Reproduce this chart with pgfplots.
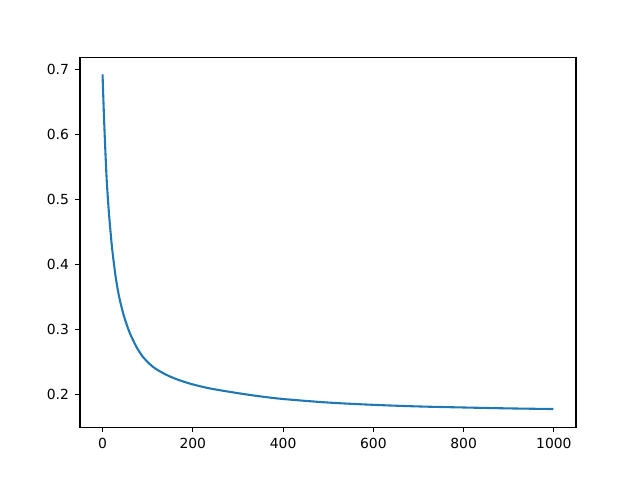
\documentclass[border=0pt]{standalone}
\usepackage{pgfplots}
\pgfplotsset{compat=1.18}
\usepackage{fontspec}
\setmainfont{DejaVu Sans}
\definecolor{mplblue}{HTML}{1F77B4}
\begin{document}
\begin{tikzpicture}
	\begin{axis}[
	scale only axis,
	width=357.12pt, height=266.11pt,
	xmin=-49.95, xmax=1048.95,
	ymin=0.149, ymax=0.719,
	xtick={0,200,400,600,800,1000},
	ytick={0.2,0.3,0.4,0.5,0.6,0.7},
	yticklabel style={/pgf/number format/fixed, /pgf/number format/precision=1, /pgf/number format/fixed zerofill},
	xticklabel style={/pgf/number format/fixed, /pgf/number format/1000 sep={}},
	/pgf/number format/assume math mode=true,
	tick align=outside,
	xtick pos=left, ytick pos=left,
	major tick length=3.5pt,
	every tick/.style={black, line width=0.8pt},
	axis line style={line width=0.8pt},
	tick label style={font=\fontsize{10}{12}\selectfont},
	xticklabel shift=1pt, yticklabel shift=1pt,
	scaled y ticks=false,
	]
	\addplot[mplblue, line width=1.5pt, smooth, tension=0.5] coordinates {
		(0, 0.693)
		(2, 0.651)
		(4, 0.613)
		(6, 0.579)
		(9, 0.533)
		(12, 0.500)
		(15, 0.472)
		(20, 0.433)
		(24, 0.408)
		(29, 0.381)
		(34, 0.360)
		(39, 0.343)
		(48, 0.319)
		(60, 0.295)
		(75, 0.273)
		(90, 0.257)
		(110, 0.243)
		(130, 0.234)
		(150, 0.227)
		(170, 0.2215)
		(200, 0.2150)
		(240, 0.2085)
		(300, 0.2015)
		(350, 0.1965)
		(400, 0.1925)
		(500, 0.1870)
		(600, 0.1835)
		(700, 0.1810)
		(800, 0.1794)
		(900, 0.1780)
		(999, 0.1770)
	};
	\end{axis}
	\path[use as bounding box] (-57.6pt,-38.016pt) rectangle (403.2pt,307.584pt);
	\end{tikzpicture}
\end{document}
